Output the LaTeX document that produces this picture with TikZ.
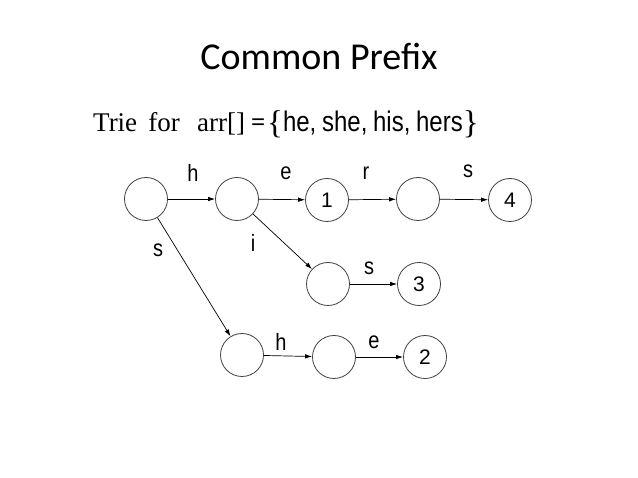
\documentclass[tikz,border=0pt]{standalone}
\usepackage{fontspec}
\usepackage{graphicx}
\setmainfont{Liberation Sans}
\newfontfamily\titlefont{Carlito}
\newfontfamily\timesfont{Liberation Serif}
\newcommand\vstretch[1]{\scalebox{1}[1.18]{#1}}
\usetikzlibrary{arrows.meta}
\begin{document}
\begin{tikzpicture}[x=1pt,y=-1pt,
  state/.style={circle,draw=black!75,line width=0.8pt,minimum size=43pt,inner sep=0pt,font=\fontsize{21}{21}\selectfont},
  edge/.style={line width=0.7pt,-{Latex[length=7pt,width=4.5pt]}},
  lbl/.style={font=\fontsize{20}{20}\selectfont,inner sep=0pt}]
\useasboundingbox[fill=white] (0,0) rectangle (638,478);
\node[anchor=base,inner sep=0pt,font=\titlefont\fontsize{38}{38}\selectfont] (title) at (319,70) {Common Prefix};
\node[anchor=base west,inner sep=0pt,font=\timesfont\fontsize{27}{27}\selectfont] (trie) at (93,132) {Trie\ \,for};
\node[anchor=base west,inner sep=0pt,font=\timesfont\fontsize{27}{27}\selectfont] (arr) at (197,132) {arr[]};
\node[anchor=base west,inner sep=0pt,font=\timesfont\bfseries\fontsize{25}{25}\selectfont] (eq) at (251,131) {=};
\node[anchor=base west,inner sep=0pt,font=\fontsize{24}{24}\selectfont] (set) at (267,132) {\raisebox{-2pt}{\timesfont\fontsize{33}{33}\selectfont\{}\vstretch{he,\hspace{-1pt} she,\hspace{-1pt} his,\hspace{-1pt} hers}\raisebox{-2pt}{\timesfont\fontsize{33}{33}\selectfont\}}};
% states
\node[state] (r0) at (146,199) {};
\node[state] (a) at (237,199) {};
\node[state] (n1) at (327,200) {1};
\node[state] (b) at (418,199) {};
\node[state] (n4) at (510,200) {4};
\node[state] (c) at (328,284) {};
\node[state] (n3) at (419,284) {3};
\node[state] (d) at (242,355) {};
\node[state] (e) at (334,357) {};
\node[state] (n2) at (425,357) {2};
% edges
\draw[edge] (r0) -- (a);
\draw[edge] (a) -- (n1);
\draw[edge] (n1) -- (b);
\draw[edge] (b) -- (n4);
\draw[edge] (r0) -- (d);
\draw[edge] (a) -- (c);
\draw[edge] (c) -- (n3);
\draw[edge] (d) -- (e);
\draw[edge] (e) -- (n2);
% labels
\node[lbl] (lh1) at (193,173) {\vstretch{h}};
\node[lbl] (le1) at (286,173) {\vstretch{e}};
\node[lbl] (lr) at (366,173) {\vstretch{r}};
\node[lbl] (ls1) at (468,171) {\vstretch{s}};
\node[lbl] (ls2) at (158,250) {\vstretch{s}};
\node[lbl] (li) at (253,243) {\vstretch{i}};
\node[lbl] (ls3) at (369,268) {\vstretch{s}};
\node[lbl] (lh2) at (281,342) {\vstretch{h}};
\node[lbl] (le2) at (374,342) {\vstretch{e}};
\end{tikzpicture}
\end{document}
